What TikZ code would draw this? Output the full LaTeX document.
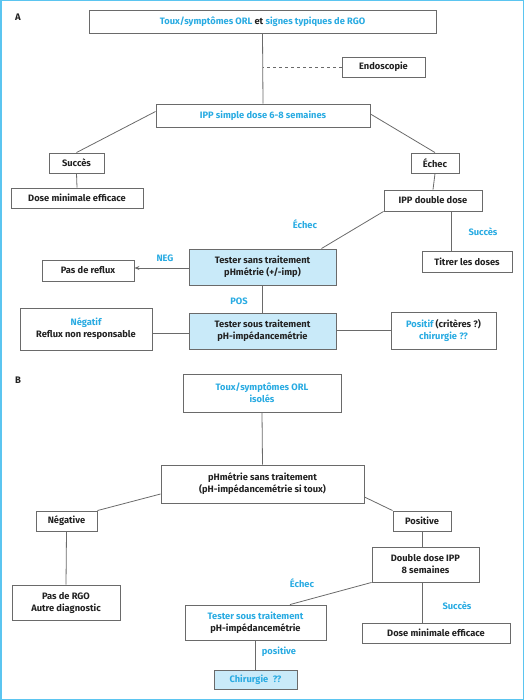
\documentclass[tikz,border=0pt]{standalone}
\usepackage{fontspec}
\setmainfont{Fira Sans}
\usetikzlibrary{arrows.meta,calc}
\definecolor{tblue}{HTML}{29ABE2}
\definecolor{bfill}{HTML}{C9EAF9}
\definecolor{frame}{HTML}{5BC5F0}
\definecolor{lgray}{HTML}{6A6A6A}
\definecolor{tblack}{HTML}{222222}
\tikzset{
  box/.style={draw=lgray,line width=0.9pt,fill=white,inner sep=0pt,align=center,text=tblack,font=\fontsize{9.3}{12}\selectfont\bfseries},
  hbox/.style={box,fill=bfill},
  lbl/.style={text=tblue,inner sep=0pt,font=\fontsize{9.3}{12}\selectfont\bfseries},
  link/.style={draw=lgray,line width=0.8pt},
}
\newcommand{\bl}[1]{\textcolor{tblue}{#1}}
\begin{document}
\begin{tikzpicture}[x=1pt,y=-1pt]
\useasboundingbox (0,0) rectangle (524,700);
\draw[frame,line width=1.5pt] (0.75,0.75) rectangle (523.25,699.25);
% panel A
\node[inner sep=0pt,text=tblack,font=\fontsize{9.5}{11}\selectfont\bfseries] (labA) at (18,17) {A};
\node[box,minimum width=347pt,minimum height=23pt] (top) at (262.5,21.5) {\bl{Toux/symptômes ORL} et \bl{signes typiques de RGO}};
\node[box,minimum width=83pt,minimum height=20pt] (endo) at (383.5,67) {Endoscopie};
\node[box,minimum width=214pt,minimum height=23pt] (ipp1) at (263,115.5) {\bl{IPP simple dose 6-8 semaines}};
\node[box,minimum width=55pt,minimum height=20pt] (succ) at (76.5,163) {Succès};
\node[box,minimum width=132pt,minimum height=20pt] (dose1) at (77,198) {Dose minimale efficace};
\node[box,minimum width=48pt,minimum height=20pt] (echec) at (435,163) {Échec};
\node[box,minimum width=98pt,minimum height=21pt] (ipp2) at (433,200.5) {IPP double dose};
\node[hbox,minimum width=147pt,minimum height=36pt] (sans) at (262.5,267) {Tester sans traitement\\pHmétrie (+/-imp)};
\node[box,minimum width=90pt,minimum height=21pt] (titrer) at (467,261.5) {Titrer les doses};
\node[box,minimum width=92pt,minimum height=21pt] (pasref) at (88,270.5) {Pas de reflux};
\node[hbox,minimum width=147pt,minimum height=36pt] (sous) at (262.5,331) {Tester sous traitement\\pH-impédancemétrie};
\node[box,minimum width=132pt,minimum height=42pt] (negatif) at (86,329) {\bl{Négatif}\\Reflux non responsable};
\node[box,minimum width=105pt,minimum height=37pt] (positif) at (443.5,330.5) {\bl{Positif} (critères ?)\\\bl{chirurgie ??}};
\coordinate (sansW) at ([yshift=-1pt]sans.west);
\coordinate (sousW) at ([yshift=-2pt]sous.west);
\coordinate (sousE) at ([yshift=1pt]sous.east);
\draw[link] (top.south) -- (ipp1.north);
\draw[link,dashed] (endo.west) -- (endo.west -| top.south);
\draw[link] ([yshift=4pt]ipp1.west) -- (succ.north);
\draw[link] ([yshift=1.5pt]ipp1.east) -- (echec.north);
\draw[link] (succ.south) -- (dose1.north);
\draw[link] (echec.south) -- (ipp2.north);
\draw[link] (ipp2.south west) -- ($(sans.north east)+(-15,0)$);
\draw[link] ($(ipp2.south)+(18,0)$) coordinate (ippr) -- (ippr |- titrer.north);
\draw[link,-{Stealth[length=5pt,width=4pt]}] (sansW) -- (pasref.east |- sansW);
\draw[link] (sans.south) -- (sous.north);
\draw[link] (sousW) -- (negatif.east |- sousW);
\draw[link] (sousE) -- (positif.west |- sousE);
\node[lbl] (lEchecA) at (305,224) {Échec};
\node[lbl] (lSuccA) at (483,232) {Succès};
\node[lbl] (lNeg) at (165,258) {NEG};
\node[lbl] (lPos) at (239,301) {POS};
% panel B
\node[inner sep=0pt,text=tblack,font=\fontsize{9.5}{11}\selectfont\bfseries] (labB) at (18,380) {B};
\node[box,minimum width=158pt,minimum height=38pt] (btop) at (262,393) {\bl{Toux/symptômes ORL}\\\bl{isolés}};
\node[box,minimum width=203pt,minimum height=38pt] (phm) at (262.5,484) {pHmétrie sans traitement\\(pH-impédancemétrie si toux)};
\node[box,minimum width=61pt,minimum height=20pt] (negative) at (66.5,521) {Négative};
\node[box,minimum width=58pt,minimum height=20pt] (positive) at (422,521) {Positive};
\node[box,minimum width=108pt,minimum height=35pt] (pasrgo) at (66,602.5) {Pas de RGO\\Autre diagnostic};
\node[box,minimum width=107pt,minimum height=35pt] (ddipp) at (425.5,564.5) {Double dose IPP\\8 semaines};
\node[box,minimum width=141pt,minimum height=35pt] (sousB) at (255.5,622.5) {\bl{Tester sous traitement}\\pH-impédancemétrie};
\node[box,minimum width=148pt,minimum height=20pt] (doseB) at (436,633) {Dose minimale efficace};
\node[hbox,minimum width=83pt,minimum height=19pt] (chir) at (255.5,679.5) {\bl{Chirurgie~~??}};
\coordinate (phmW) at ([yshift=-10pt]phm.west);
\coordinate (phmE) at ([yshift=-13pt]phm.east);
\draw[link] (btop.south) -- (phm.north);
\draw[link] (phmW) -- (negative.north east);
\draw[link] (phmE) -- (positive.north west);
\draw[link] (negative.south) -- (pasrgo.north);
\draw[link] (positive.south) coordinate (posb) -- (posb |- ddipp.north);
\draw[link] (ddipp.south west) -- ($(sousB.north)+(34.5,0)$);
\draw[link] (posb |- ddipp.south) -- (posb |- doseB.north);
\draw[link] (sousB.south) -- (chir.north);
\node[lbl] (lEchecB) at (302,583) {Échec};
\node[lbl] (lSuccB) at (457,606) {Succès};
\node[lbl] (lPosB) at (279,652) {positive};
\end{tikzpicture}
\end{document}
